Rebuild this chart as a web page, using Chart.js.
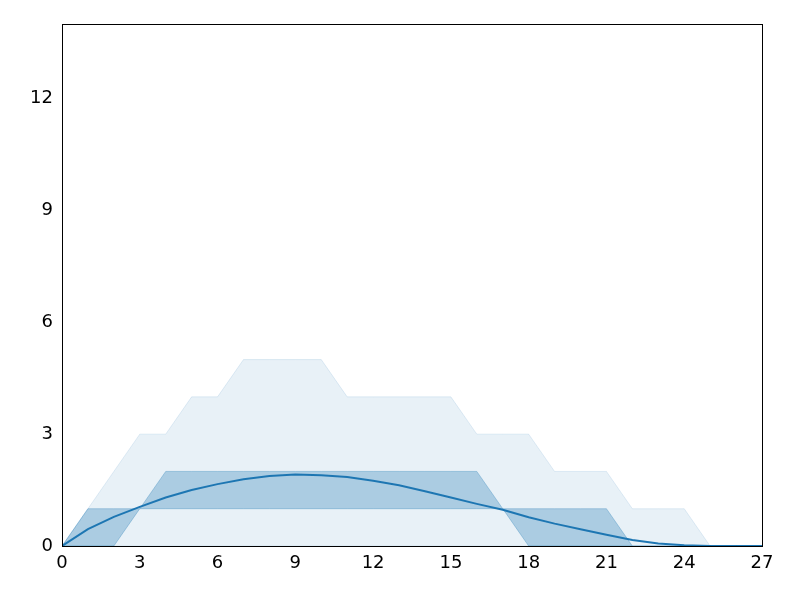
<!DOCTYPE html>
<html>
<head>
<meta charset="utf-8">
<script src="https://cdn.jsdelivr.net/npm/chart.js@4/dist/chart.umd.min.js"></script>
<style>
  html, body { margin: 0; padding: 0; background: #fff; }
  #wrap { width: 800px; height: 600px; }
</style>
</head>
<body>
<div id="wrap"><canvas id="chart" width="800" height="600"></canvas></div>
<script>
"use strict";

const xValues = [0, 1, 2, 3, 4, 5, 6, 7, 8, 9, 10, 11, 12, 13, 14, 15, 16, 17, 18, 19, 20, 21, 22, 23, 24, 25, 26, 27];
const meanValues = [0, 0.45, 0.78, 1.05, 1.3, 1.5, 1.66, 1.79, 1.88, 1.92, 1.9, 1.85, 1.75, 1.63, 1.47, 1.3, 1.13, 0.97, 0.77, 0.6, 0.45, 0.3, 0.16, 0.07, 0.02, 0, 0, 0];
const outerLow = [0, 0, 0, 0, 0, 0, 0, 0, 0, 0, 0, 0, 0, 0, 0, 0, 0, 0, 0, 0, 0, 0, 0, 0, 0, 0, 0, 0];
const outerHigh = [0, 1, 2, 3, 3, 4, 4, 5, 5, 5, 5, 4, 4, 4, 4, 4, 3, 3, 3, 2, 2, 2, 1, 1, 1, 0, 0, 0];
const innerLow = [0, 0, 0, 1, 1, 1, 1, 1, 1, 1, 1, 1, 1, 1, 1, 1, 1, 1, 0, 0, 0, 0, 0, 0, 0, 0, 0, 0];
const innerHigh = [0, 1, 1, 1, 2, 2, 2, 2, 2, 2, 2, 2, 2, 2, 2, 2, 2, 1, 1, 1, 1, 1, 0, 0, 0, 0, 0, 0];
const xTicks = [0, 3, 6, 9, 12, 15, 18, 21, 24, 27];
const yTicks = [0, 3, 6, 9, 12];

function points(values) {
  return xValues.map((x, i) => ({ x: x, y: values[i] }));
}

function band(values, fill, bg, border) {
  return {
    data: points(values),
    fill: fill,
    backgroundColor: bg,
    borderColor: border,
    borderWidth: 1,
    pointRadius: 0,
    tension: 0,
  };
}

const framePlugin = {
  id: "frame",
  afterDraw(chart) {
    const a = chart.chartArea;
    const ctx = chart.ctx;
    ctx.save();
    ctx.strokeStyle = "#000";
    ctx.lineWidth = 1;
    ctx.strokeRect(a.left + 0.5, a.top + 0.5, a.right - a.left, a.bottom - a.top);
    ctx.restore();
  },
};

const tickFont = { family: "DejaVu Sans", size: 18 };

new Chart(document.getElementById("chart"), {
  type: "line",
  data: {
    datasets: [
      band(outerLow, false, "transparent", "rgba(31,119,180,0.1)"),
      band(outerHigh, "-1", "rgba(31,119,180,0.1)", "rgba(31,119,180,0.12)"),
      band(innerLow, false, "transparent", "rgba(31,119,180,0.3)"),
      band(innerHigh, "-1", "rgba(31,119,180,0.3)", "rgba(31,119,180,0.3)"),
      {
        data: points(meanValues),
        fill: false,
        borderColor: "#1f77b4",
        borderWidth: 2,
        pointRadius: 0,
        tension: 0,
      },
    ],
  },
  options: {
    responsive: false,
    animation: false,
    layout: { padding: { top: 24, right: 38, left: 0, bottom: 0 } },
    plugins: { legend: { display: false }, tooltip: { enabled: false } },
    scales: {
      x: {
        type: "linear",
        min: 0,
        max: 27,
        afterBuildTicks: (axis) => { axis.ticks = xTicks.map((v) => ({ value: v })); },
        afterFit: (axis) => { axis.height = 54; },
        grid: { display: false, drawTicks: true, tickLength: 5, tickColor: "#000" },
        border: { color: "#000" },
        ticks: { color: "#000", font: tickFont, padding: 2, maxRotation: 0 },
      },
      y: {
        min: 0,
        max: 14,
        afterBuildTicks: (axis) => { axis.ticks = yTicks.map((v) => ({ value: v })); },
        afterFit: (axis) => { axis.width = 62; },
        grid: { display: false, drawTicks: true, tickLength: 5, tickColor: "#000" },
        border: { color: "#000" },
        ticks: { color: "#000", font: tickFont, padding: 4 },
      },
    },
  },
  plugins: [framePlugin],
});
</script>
</body>
</html>
